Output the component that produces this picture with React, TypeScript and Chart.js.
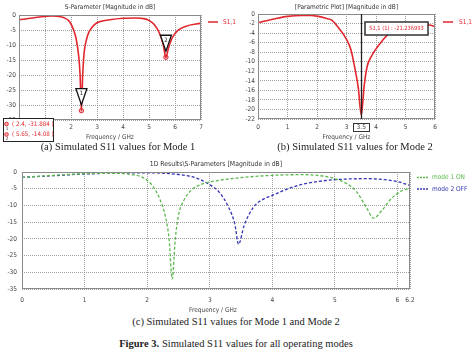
import React, { useEffect, useRef } from "react";
import { Chart, registerables } from "chart.js";

Chart.register(...registerables);

// ---------- data ----------
// (a) Mode 1
const freqA = [0, 0.5, 1.0, 1.3, 1.6, 1.8, 1.9, 2.0, 2.1, 2.2, 2.3, 2.35, 2.4, 2.45, 2.5, 2.6, 2.7, 2.8, 3.0, 3.5, 4.0, 4.5, 4.8, 5.0, 5.2, 5.4, 5.55, 5.65, 5.75, 5.9, 6.1, 6.4, 7.0];
const s11A = [-1.6, -1.0, -0.5, -0.3, -0.6, -1.2, -1.8, -3.0, -5.0, -8.0, -14.0, -20.0, -31.9, -20.0, -13.0, -8.0, -5.5, -4.2, -2.6, -1.6, -1.1, -1.0, -1.2, -1.8, -3.2, -6.0, -10.0, -14.1, -11.0, -7.5, -5.2, -3.8, -2.7];
const markerFreqA = [2.4, 5.65];
const markerValA = [-31.884, -14.08];
const ticksAX = [0, 1, 2, 3, 4, 5, 6, 7];
const ticksAY = [0, -5, -10, -15, -20, -25, -30, -35];

// (b) Mode 2
const freqB = [0, 0.5, 1.0, 1.5, 1.8, 2.0, 2.3, 2.5, 2.73, 3.0, 3.15, 3.25, 3.4, 3.5, 3.6, 3.7, 3.85, 4.0, 4.2, 4.4, 4.7, 5.0, 5.5, 5.8, 6.0];
const s11B = [-1.8, -1.1, -0.5, -0.3, -0.3, -0.45, -0.9, -1.3, -2.9, -5.3, -7.5, -10.3, -15.5, -21.2, -15.0, -11.0, -8.8, -7.3, -5.7, -4.3, -3.2, -2.6, -2.1, -2.3, -2.6];
const cursorFreqB = 3.5;
const cursorValB = -21.236993;
const ticksBX = [0, 1, 2, 3, 3.5, 4, 5, 6];
const ticksBY = [0, -2, -4, -6, -8, -10, -12, -14, -16, -18, -20, -22];

// (c) Mode 1 and Mode 2
const freqC1 = [0, 0.5, 1.0, 1.5, 1.8, 1.9, 2.0, 2.1, 2.2, 2.3, 2.35, 2.4, 2.45, 2.5, 2.6, 2.7, 2.8, 3.0, 3.5, 4.0, 4.5, 4.8, 5.0, 5.2, 5.35, 5.5, 5.62, 5.75, 5.9, 6.05, 6.2];
const mode1On = [-1.6, -1.0, -0.5, -0.4, -0.9, -1.4, -2.5, -4.5, -8.0, -14.0, -20.0, -32.0, -20.0, -13.0, -8.0, -5.5, -4.2, -3.0, -1.7, -1.0, -0.8, -1.2, -2.0, -3.6, -6.0, -10.5, -13.8, -11.5, -8.0, -5.8, -4.8];
const freqC2 = [0, 0.5, 1.0, 1.5, 2.0, 2.3, 2.6, 2.8, 3.0, 3.15, 3.3, 3.4, 3.46, 3.55, 3.7, 3.85, 4.0, 4.25, 4.5, 4.75, 5.0, 5.5, 5.8, 6.0, 6.2];
const mode2Off = [-1.6, -1.1, -0.6, -0.35, -0.25, -0.4, -1.0, -1.9, -3.8, -6.0, -10.5, -15.5, -21.6, -16.0, -10.5, -8.2, -7.0, -5.0, -3.6, -2.8, -2.3, -2.0, -2.3, -2.9, -4.0];
const ticksCX = [0, 1, 2, 3, 4, 5, 6, 6.2];
const ticksCY = [0, -5, -10, -15, -20, -25, -30, -35];

// ---------- style ----------
const FONT = "'Liberation Sans Narrow','DejaVu Sans Condensed','Liberation Sans',Arial,sans-serif";
const RED = "#e2262e";
const GREEN = "#5cb84e";
const BLUE = "#3434b4";
const GRID = "#a0a0a0";
const TICK = "#444";
const FRAME = "#8a8a8a";

const pts = (xs: number[], ys: number[]) => xs.map((x, i) => ({ x, y: ys[i] }));

type Geo = { yW: number; xH: number; xPad: number; yPad: number; pad: { left: number; right: number; top: number; bottom: number }; fs: number };

function makeScales(xMin: number, xMax: number, xT: number[], yMin: number, yMax: number, yT: number[], g: Geo, hideGridX?: number) {
  const tickFont = { family: FONT, size: g.fs };
  return {
    x: {
      type: "linear",
      min: xMin,
      max: xMax,
      afterBuildTicks: (s: any) => { s.ticks = xT.map((v) => ({ value: v })); },
      afterFit: (s: any) => { s.height = g.xH; },
      ticks: { font: tickFont, color: TICK, padding: g.xPad, maxRotation: 0, autoSkip: false, callback: (v: any) => String(v) },
      grid: { color: (c: any) => (hideGridX !== undefined && c.tick && c.tick.value === hideGridX ? "rgba(0,0,0,0)" : GRID), drawTicks: false, lineWidth: 1 },
      border: { display: false, dash: [1, 1] },
    },
    y: {
      type: "linear",
      min: yMin,
      max: yMax,
      afterBuildTicks: (s: any) => { s.ticks = yT.map((v) => ({ value: v })); },
      afterFit: (s: any) => { s.width = g.yW; },
      ticks: { font: tickFont, color: TICK, padding: g.yPad, autoSkip: false, callback: (v: any) => String(v) },
      grid: { color: GRID, drawTicks: false, lineWidth: 1 },
      border: { display: false, dash: [1, 1] },
    },
  };
}

function frame(ctx: CanvasRenderingContext2D, ca: any) {
  ctx.save();
  ctx.strokeStyle = FRAME;
  ctx.lineWidth = 1;
  ctx.setLineDash([]);
  ctx.strokeRect(Math.round(ca.left) + 0.5, Math.round(ca.top) + 0.5, Math.round(ca.right - ca.left) - 1, Math.round(ca.bottom - ca.top) - 1);
  ctx.restore();
}

function txt(ctx: CanvasRenderingContext2D, s: string, x: number, y: number, align: CanvasTextAlign, color: string, size: number, bold = false) {
  ctx.save();
  ctx.font = `${bold ? "bold " : ""}${size}px ${FONT}`;
  ctx.fillStyle = color;
  ctx.textAlign = align;
  ctx.textBaseline = "middle";
  ctx.fillText(s, x, y);
  ctx.restore();
}

function seg(ctx: CanvasRenderingContext2D, x1: number, y1: number, x2: number, y2: number, color: string, w: number, dash: number[] = []) {
  ctx.save();
  ctx.strokeStyle = color;
  ctx.lineWidth = w;
  ctx.setLineDash(dash);
  ctx.beginPath();
  ctx.moveTo(x1, y1);
  ctx.lineTo(x2, y2);
  ctx.stroke();
  ctx.restore();
}

const decorA = {
  id: "decorA",
  afterDraw(chart: any) {
    const ctx = chart.ctx as CanvasRenderingContext2D;
    const ca = chart.chartArea;
    const xs = chart.scales.x;
    const ys = chart.scales.y;
    frame(ctx, ca);
    const cx = (ca.left + ca.right) / 2;
    txt(ctx, "S-Parameter [Magnitude in dB]", cx, 7, "center", "#333", 6.5);
    seg(ctx, 208, 22, 218, 22, RED, 1.5);
    txt(ctx, "S1,1", 223, 22, "left", RED, 6.5);
    txt(ctx, "Frequency / GHz", cx, 137, "center", "#444", 6.5);
    // marker triangles
    markerFreqA.forEach((f, i) => {
      const px = xs.getPixelForValue(f);
      const py = ys.getPixelForValue(markerValA[i]);
      const apex = py - 6;
      const top = apex - 16;
      ctx.save();
      ctx.fillStyle = "#fff";
      ctx.strokeStyle = "#111";
      ctx.lineWidth = 1.3;
      ctx.beginPath();
      ctx.moveTo(px - 5.5, top);
      ctx.lineTo(px + 5.5, top);
      ctx.lineTo(px, apex);
      ctx.closePath();
      ctx.fill();
      ctx.stroke();
      ctx.restore();
      txt(ctx, String(i + 1), px, top + 5, "center", "#222", 6);
    });
    // marker box
    ctx.save();
    ctx.fillStyle = "#fff";
    ctx.fillRect(3, 118, 50, 23);
    ctx.strokeStyle = "#222";
    ctx.lineWidth = 1;
    ctx.strokeRect(3.5, 118.5, 50, 23);
    ctx.restore();
    markerFreqA.forEach((f, i) => {
      const y = 124 + i * 10.5;
      ctx.save();
      ctx.strokeStyle = RED;
      ctx.fillStyle = "#f6b5b5";
      ctx.lineWidth = 1;
      ctx.beginPath();
      ctx.arc(6.5, y, 1.8, 0, Math.PI * 2);
      ctx.fill();
      ctx.stroke();
      ctx.restore();
      txt(ctx, String(i + 1), 7, y + 4.5, "center", "#222", 4.5);
      txt(ctx, `( ${f}, ${markerValA[i]} )`, 12, y, "left", RED, 6.2);
    });
  },
};

const decorB = {
  id: "decorB",
  afterDraw(chart: any) {
    const ctx = chart.ctx as CanvasRenderingContext2D;
    const ca = chart.chartArea;
    const xs = chart.scales.x;
    frame(ctx, ca);
    const cx = (ca.left + ca.right) / 2;
    txt(ctx, "[Parametric Plot] [Magnitude in dB]", cx, 7, "center", "#333", 6.5);
    const px = Math.round(xs.getPixelForValue(cursorFreqB)) + 0.5;
    seg(ctx, px, ca.top, px, ca.bottom, "#222", 1.3);
    ctx.save();
    ctx.strokeStyle = "#333";
    ctx.lineWidth = 1;
    ctx.strokeRect(px - 8, 123.5, 16, 8);
    ctx.restore();
    // annotation
    ctx.save();
    ctx.fillStyle = "#fff";
    ctx.fillRect(128, 22, 63, 13);
    ctx.strokeStyle = "#333";
    ctx.lineWidth = 1.5;
    ctx.strokeRect(128, 22, 63, 13);
    ctx.restore();
    txt(ctx, `S1,1 (1) : ${cursorValB}`, 159.5, 28.5, "center", RED, 5.7);
    seg(ctx, 206, 22, 216, 22, RED, 1.5);
    txt(ctx, "S1,1", 222, 22, "left", RED, 6.5);
    txt(ctx, "Frequency / GHz", cx, 137, "center", "#444", 6.5);
  },
};

const decorC = {
  id: "decorC",
  afterDraw(chart: any) {
    const ctx = chart.ctx as CanvasRenderingContext2D;
    const ca = chart.chartArea;
    frame(ctx, ca);
    const cx = (ca.left + ca.right) / 2;
    txt(ctx, "1D Results\\S-Parameters [Magnitude in dB]", cx, 14, "center", "#333", 6.8);
    seg(ctx, 417, 27.5, 428, 27.5, GREEN, 1.3, [2, 1]);
    txt(ctx, "mode 1 ON", 432, 27.5, "left", GREEN, 6.5);
    seg(ctx, 417, 39, 428, 39, BLUE, 1.3, [2, 1]);
    txt(ctx, "mode 2 OFF", 432, 39, "left", BLUE, 6.5);
    txt(ctx, "Frequency / GHz", cx - 3, 160, "center", "#444", 6.5);
  },
};

function useChart(ref: React.RefObject<HTMLCanvasElement>, build: () => any) {
  useEffect(() => {
    if (!ref.current) return;
    const chart = new Chart(ref.current, build());
    return () => chart.destroy();
  }, []);
}

const baseOpts = (g: Geo, scales: any) => ({
  responsive: false,
  animation: false,
  devicePixelRatio: 1,
  layout: { padding: g.pad },
  plugins: { legend: { display: false }, title: { display: false }, tooltip: { enabled: false } },
  elements: { point: { radius: 0 } },
  scales,
});

export default function App() {
  const refA = useRef<HTMLCanvasElement>(null);
  const refB = useRef<HTMLCanvasElement>(null);
  const refC = useRef<HTMLCanvasElement>(null);

  useChart(refA, () => {
    const g: Geo = { yW: 19, xH: 16, xPad: 3, yPad: 3, pad: { left: 0, right: 36, top: 15, bottom: 14 }, fs: 6.5 };
    return {
      type: "line",
      data: {
        datasets: [
          { label: "S1,1", data: pts(freqA, s11A), borderColor: RED, borderWidth: 1.6, cubicInterpolationMode: "monotone", pointRadius: 0 },
          { label: "markers", data: pts(markerFreqA, markerValA), showLine: false, pointRadius: 2.2, borderColor: RED, backgroundColor: "#f6b5b5", borderWidth: 1 },
        ],
      },
      options: baseOpts(g, makeScales(0, 7, ticksAX, -35, 0, ticksAY, g)),
      plugins: [decorA],
    };
  });

  useChart(refB, () => {
    const g: Geo = { yW: 21, xH: 16, xPad: 4, yPad: 3, pad: { left: 0, right: 39, top: 14, bottom: 15 }, fs: 6.5 };
    return {
      type: "line",
      data: {
        datasets: [{ label: "S1,1", data: pts(freqB, s11B), borderColor: RED, borderWidth: 1.6, cubicInterpolationMode: "monotone", pointRadius: 0 }],
      },
      options: baseOpts(g, makeScales(0, 6, ticksBX, -22, 0, ticksBY, g, cursorFreqB)),
      plugins: [decorB],
    };
  });

  useChart(refC, () => {
    const g: Geo = { yW: 22, xH: 16, xPad: 7, yPad: 5, pad: { left: 0, right: 64, top: 22, bottom: 10 }, fs: 6.5 };
    return {
      type: "line",
      data: {
        datasets: [
          { label: "mode 1 ON", data: pts(freqC1, mode1On), borderColor: GREEN, borderWidth: 1.3, borderDash: [3, 2], cubicInterpolationMode: "monotone", pointRadius: 0 },
          { label: "mode 2 OFF", data: pts(freqC2, mode2Off), borderColor: BLUE, borderWidth: 1.3, borderDash: [3, 2], cubicInterpolationMode: "monotone", pointRadius: 0 },
        ],
      },
      options: baseOpts(g, makeScales(0, 6.2, ticksCX, -35, 0, ticksCY, g)),
      plugins: [decorC],
    };
  });

  const cap: React.CSSProperties = { position: "absolute", fontFamily: "'Liberation Serif','Times New Roman',serif", fontSize: "10.5px", lineHeight: "12px", color: "#222", textAlign: "center", whiteSpace: "nowrap" };

  return (
    <div style={{ position: "fixed", left: 0, top: 0, width: 474, height: 351, background: "#fff", overflow: "hidden" }}>
      <canvas ref={refA} width={237} height={150} style={{ position: "absolute", left: 0, top: 0, width: 237, height: 150 }} />
      <canvas ref={refB} width={237} height={150} style={{ position: "absolute", left: 237, top: 0, width: 237, height: 150 }} />
      <canvas ref={refC} width={474} height={165} style={{ position: "absolute", left: 0, top: 150, width: 474, height: 165 }} />
      <div style={{ ...cap, left: 18, width: 200, top: 141 }}>(a) Simulated S11 values for Mode 1</div>
      <div style={{ ...cap, left: 255, width: 200, top: 141 }}>(b) Simulated S11 values for Mode 2</div>
      <div style={{ ...cap, left: 86, width: 300, top: 316 }}>(c) Simulated S11 values for Mode 1 and Mode 2</div>
      <div style={{ ...cap, left: 86, width: 300, top: 338 }}>
        <b>Figure 3.</b> Simulated S11 values for all operating modes
      </div>
    </div>
  );
}
